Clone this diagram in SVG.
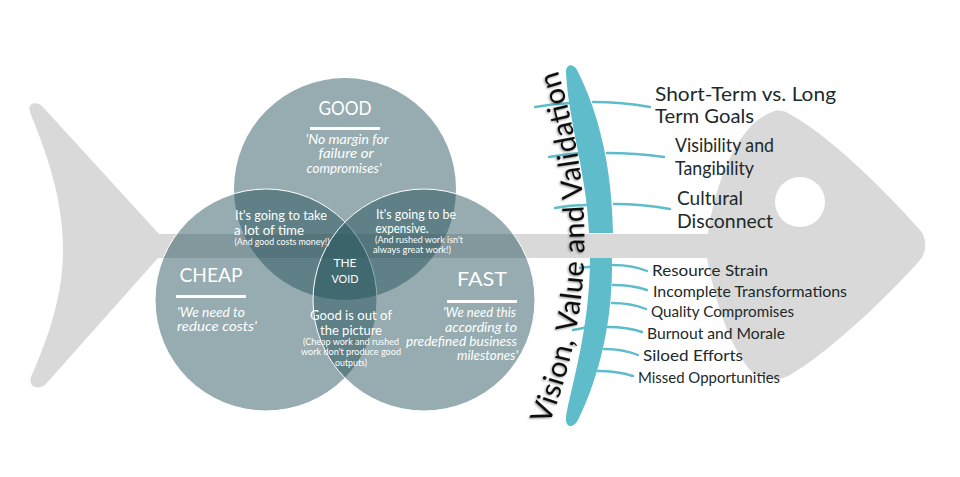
<svg xmlns="http://www.w3.org/2000/svg" width="960" height="477" viewBox="0 0 960 477">
<defs>
<style>
.fish{fill:#d9d9d9}
.bone{fill:#5fbccb}
.rib{fill:none;stroke:#5fbccb;stroke-width:2.4;stroke-linecap:round}
.venn{fill:#1f4f58;fill-opacity:.47}
.outl{stroke:#fff;stroke-width:1}
text{font-family:"Lato","Open Sans","Liberation Sans",sans-serif}
.w{fill:#fff;text-anchor:middle}
.i{font-style:italic}
.k{fill:#1c2a2a;font-size:15px}
.b{font-size:19px}
</style>
<filter id="sh" x="-20%" y="-5%" width="140%" height="110%"><feDropShadow dx="-1" dy="1" stdDeviation="1.2" flood-color="#000" flood-opacity=".4"/></filter>
<path id="tp" d="M549,425C590,320 600,200 555,62"/>
</defs>
<rect width="960" height="477" fill="#fff"/>
<g id="fish">
<path class="fish" d="M30,112C27,103 36,101 42,106L159,234H708C714,190 735,125 772,112C776,110 780,110 786,112C825,132 880,185 920,230C927,238 927,252 920,260C885,300 825,355 790,375C780,380 770,382 753,373C730,350 715,300 707,258H158L45,385C38,390 28,387 31,377C45,345 63,300 63,250C63,195 45,150 30,112Z"/>
<circle cx="800" cy="202" r="25" fill="#fff"/>
</g>
<g id="bones">
<path class="bone" d="M566,72C566,64 573,63 577,70C600,115 612,170 613,233H589C587,175 568,120 566,72Z"/>
<path class="bone" d="M590,258H612C613,320 600,375 578,420C573,429 565,428 566,417C570,390 590,330 590,258Z"/>
</g>
<g id="connectors">
<path class="rib" d="M535,107Q552,104 570,103M593,102Q622,102 650,107"/>
<path class="rib" d="M549,157Q565,154 581,153M607,153Q636,153 664,157"/>
<path class="rib" d="M555,208Q570,205 588,205M614,204Q642,204 670,209"/>
<path class="rib" d="M580,268Q585,267 590,267M613,265Q632,265 647,271"/>
<path class="rib" d="M613,285Q632,285 647,290"/>
<path class="rib" d="M612,303Q631,303 646,309"/>
<path class="rib" d="M573,330Q580,329 587,327M608,327Q627,327 642,332"/>
<path class="rib" d="M604,349Q623,349 638,355"/>
<path class="rib" d="M598,371Q617,371 633,376"/>
</g>
<g id="good">
<circle class="venn" cx="345" cy="189" r="111"/>
<text class="w" x="345" y="115" font-size="19" textLength="53" lengthAdjust="spacingAndGlyphs">GOOD</text>
<rect x="310" y="127" width="70" height="3" fill="#fff"/>
<g class="w i" font-size="12.5">
<text x="347" y="144" textLength="83" lengthAdjust="spacingAndGlyphs">'No margin for</text>
<text x="346" y="158" textLength="55" lengthAdjust="spacingAndGlyphs">failure or</text>
<text x="344" y="173" textLength="75" lengthAdjust="spacingAndGlyphs">compromises'</text>
</g>
</g>
<g id="cheap">
<circle class="venn outl" cx="266" cy="300" r="111"/>
<text class="w" x="211" y="282" font-size="19" textLength="63" lengthAdjust="spacingAndGlyphs">CHEAP</text>
<rect x="176" y="295" width="70" height="3" fill="#fff"/>
<g class="i" fill="#fff" font-size="12.5">
<text x="177" y="317" textLength="68" lengthAdjust="spacingAndGlyphs">'We need to</text>
<text x="177" y="331" textLength="80" lengthAdjust="spacingAndGlyphs">reduce costs'</text>
</g>
</g>
<g id="fast">
<circle class="venn outl" cx="424" cy="300" r="111"/>
<text class="w" x="482" y="286" font-size="19" textLength="50" lengthAdjust="spacingAndGlyphs">FAST</text>
<rect x="447" y="300" width="70" height="3" fill="#fff"/>
<g class="i" fill="#fff" font-size="12.5">
<text x="443" y="317" textLength="73" lengthAdjust="spacingAndGlyphs">'We need this</text>
<text x="445" y="332" textLength="72" lengthAdjust="spacingAndGlyphs">according to</text>
<text x="406" y="346" textLength="111" lengthAdjust="spacingAndGlyphs">predefined business</text>
<text x="457" y="360" textLength="61" lengthAdjust="spacingAndGlyphs">milestones'</text>
</g>
</g>
<g id="good-cheap" class="w">
<text x="281" y="220" font-size="13" textLength="92" lengthAdjust="spacingAndGlyphs">It's going to take</text>
<text x="269" y="235" font-size="13" textLength="70" lengthAdjust="spacingAndGlyphs">a lot of time</text>
<text x="282" y="245" font-size="8.5" textLength="95" lengthAdjust="spacingAndGlyphs">(And good costs money!)</text>
</g>
<g id="good-fast" class="w">
<text x="416" y="219" font-size="12.5" textLength="80" lengthAdjust="spacingAndGlyphs">It's going to be</text>
<text x="402" y="233" font-size="12.5" textLength="53" lengthAdjust="spacingAndGlyphs">expensive.</text>
<text x="419" y="243" font-size="8.5" textLength="88" lengthAdjust="spacingAndGlyphs">(And rushed work isn't</text>
<text x="412" y="253" font-size="8.5" textLength="78" lengthAdjust="spacingAndGlyphs">always great work!)</text>
</g>
<g id="void" class="w" font-size="11.5">
<text x="345" y="267" textLength="23" lengthAdjust="spacingAndGlyphs">THE</text>
<text x="345" y="283" textLength="27" lengthAdjust="spacingAndGlyphs">VOID</text>
</g>
<g id="cheap-fast" class="w">
<text x="351" y="320" font-size="13" textLength="82" lengthAdjust="spacingAndGlyphs">Good is out of</text>
<text x="351" y="335" font-size="13" textLength="62" lengthAdjust="spacingAndGlyphs">the picture</text>
<text x="351" y="345" font-size="8.5" textLength="96" lengthAdjust="spacingAndGlyphs">(Cheap work and rushed</text>
<text x="351" y="355" font-size="8.5" textLength="100" lengthAdjust="spacingAndGlyphs">work don't produce good</text>
<text x="351" y="366" font-size="8.5" textLength="32" lengthAdjust="spacingAndGlyphs">outputs)</text>
</g>
<g id="title">
<text fill="#111" font-size="29" filter="url(#sh)"><textPath href="#tp" textLength="362" lengthAdjust="spacing">Vision, Value and Validation</textPath></text>
</g>
<g id="labels">
<g id="l1" class="k b"><text x="655" y="101" textLength="181" lengthAdjust="spacingAndGlyphs">Short-Term vs. Long</text><text x="655" y="123" textLength="99" lengthAdjust="spacingAndGlyphs">Term Goals</text></g>
<g id="l2" class="k b"><text x="675" y="152" textLength="99" lengthAdjust="spacingAndGlyphs">Visibility and</text><text x="675" y="175" textLength="79" lengthAdjust="spacingAndGlyphs">Tangibility</text></g>
<g id="l3" class="k b"><text x="677" y="205" textLength="66" lengthAdjust="spacingAndGlyphs">Cultural</text><text x="677" y="228" textLength="96" lengthAdjust="spacingAndGlyphs">Disconnect</text></g>
<text id="l4" class="k" x="652" y="276" textLength="116" lengthAdjust="spacingAndGlyphs">Resource Strain</text>
<text id="l5" class="k" x="653" y="297" textLength="194" lengthAdjust="spacingAndGlyphs">Incomplete Transformations</text>
<text id="l6" class="k" x="651" y="317" textLength="143" lengthAdjust="spacingAndGlyphs">Quality Compromises</text>
<text id="l7" class="k" x="647" y="339" textLength="138" lengthAdjust="spacingAndGlyphs">Burnout and Morale</text>
<text id="l8" class="k" x="643" y="361" textLength="100" lengthAdjust="spacingAndGlyphs">Siloed Efforts</text>
<text id="l9" class="k" x="638" y="383" textLength="142" lengthAdjust="spacingAndGlyphs">Missed Opportunities</text>
</g>
</svg>
